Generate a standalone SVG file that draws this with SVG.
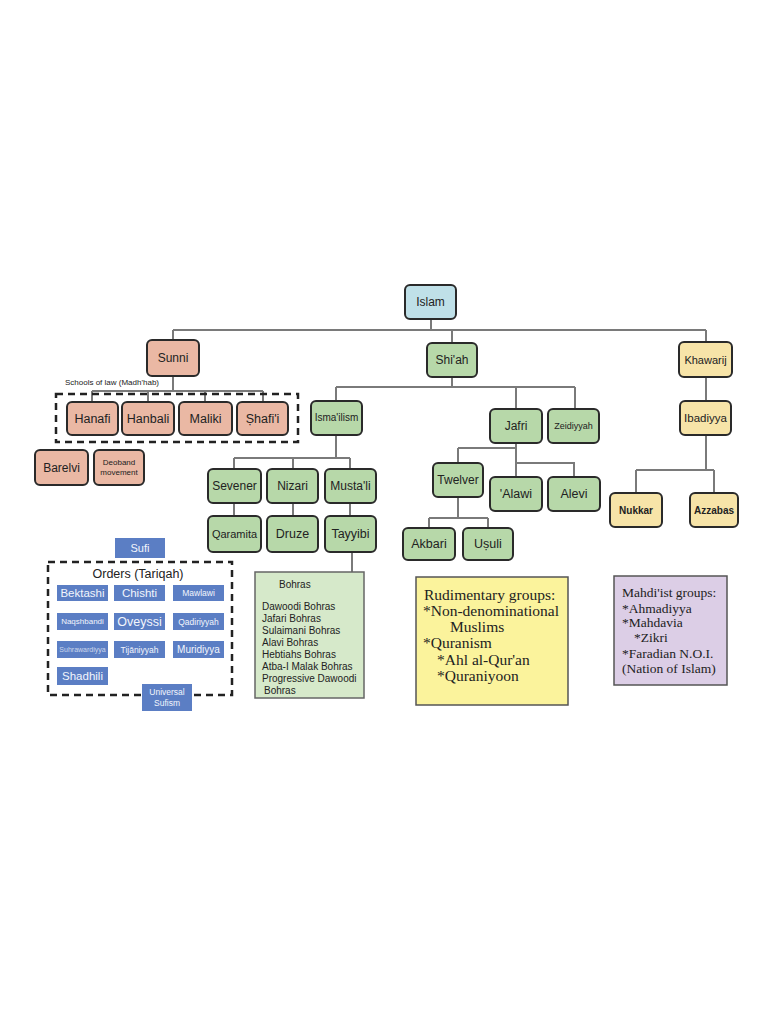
<svg xmlns="http://www.w3.org/2000/svg" width="768" height="1024" viewBox="0 0 768 1024">
<style>
.n{stroke:#2a2a2a;stroke-width:2}
.b{fill:#bfe0e8}.s{fill:#eab8a4}.g{fill:#b7d8a9}.y{fill:#f7e4a8}
.t{font-family:"Liberation Sans",Arial,sans-serif;fill:#222;text-anchor:middle}
.sf{fill:#5b7ec4}
.w{font-family:"Liberation Sans",Arial,sans-serif;fill:#f2f5fc;text-anchor:middle}
.c{fill:none;stroke:#7a7a7a;stroke-width:2}
.d{fill:none;stroke:#222;stroke-width:2.5;stroke-dasharray:7,5}
.sr{font-family:"Liberation Serif","Times New Roman",serif;fill:#222}
.bo{font-family:"Liberation Sans",Arial,sans-serif;fill:#222;font-size:10px}
</style>
<rect width="768" height="1024" fill="#fff"/>
<g id="connectors">
<path class="c" d="M431 319V330M173 330H706M173 330V340M452 330V343M706 330V342"/>
<path class="c" d="M173 376V391M92 391H263M92 391V402M148 391V402M205 391V402M263 391V402"/>
<path class="c" d="M452 377V387M336 387H575M336 387V401M516 387V409M575 387V409"/>
<path class="c" d="M336 435V458M234 458H350M234 458V469M293 458V469M350 458V469M234 503V516M293 503V516M350 503V516M352 552V572"/>
<path class="c" d="M516 443V477M458 448H516M458 448V463M516 463H574V477M458 497V518M429 518H488M429 518V528M488 518V528"/>
<path class="c" d="M706 377V401M706 435V470M636 470H714M636 470V493M714 470V493"/>
</g>
<g id="islam"><rect class="n b" x="405" y="285" width="51" height="34" rx="5"/><text class="t" x="430.5" y="306" font-size="12">Islam</text></g>
<g id="sunni"><rect class="n s" x="147" y="340" width="52" height="36" rx="5"/><text class="t" x="173" y="362" font-size="12">Sunni</text></g>
<g id="shiah"><rect class="n g" x="427" y="343" width="50" height="34" rx="5"/><text class="t" x="452" y="364" font-size="12">Shi'ah</text></g>
<g id="khawarij"><rect class="n y" x="679" y="342" width="53" height="35" rx="5"/><text class="t" x="705.5" y="364" font-size="11">Khawarij</text></g>
<text class="t" x="112" y="385" font-size="8">Schools of law (Madh'hab)</text>
<rect class="d" x="56" y="394" width="242" height="48"/>
<g id="hanafi"><rect class="n s" x="67" y="402" width="51" height="33" rx="5"/><text class="t" x="92.5" y="423" font-size="12.5">Hanafi</text></g>
<g id="hanbali"><rect class="n s" x="122" y="402" width="52" height="33" rx="5"/><text class="t" x="148" y="423" font-size="12.5">Hanbali</text></g>
<g id="maliki"><rect class="n s" x="179" y="402" width="53" height="33" rx="5"/><text class="t" x="205.5" y="423" font-size="12.5">Maliki</text></g>
<g id="shafii"><rect class="n s" x="237" y="402" width="51" height="33" rx="5"/><text class="t" x="262.5" y="423" font-size="12.5">Ṣhafi'i</text></g>
<g id="barelvi"><rect class="n s" x="35" y="450" width="53" height="35" rx="5"/><text class="t" x="61.5" y="472" font-size="12">Barelvi</text></g>
<g id="deoband"><rect class="n s" x="94" y="450" width="50" height="35" rx="5"/><text class="t" x="119" y="465" font-size="8">Deoband</text><text class="t" x="119" y="475" font-size="8">movement</text></g>
<g id="ismailism"><rect class="n g" x="311" y="401" width="51" height="34" rx="5"/><text class="t" x="336.5" y="421" font-size="10">Isma'ilism</text></g>
<g id="jafri"><rect class="n g" x="490" y="409" width="52" height="34" rx="5"/><text class="t" x="516" y="430" font-size="12">Jafri</text></g>
<g id="zeidiyyah"><rect class="n g" x="548" y="409" width="51" height="34" rx="5"/><text class="t" x="573.5" y="429" font-size="9">Zeidiyyah</text></g>
<g id="sevener"><rect class="n g" x="208" y="469" width="53" height="34" rx="5"/><text class="t" x="234.5" y="490" font-size="12">Sevener</text></g>
<g id="nizari"><rect class="n g" x="267" y="469" width="51" height="34" rx="5"/><text class="t" x="292.5" y="490" font-size="12">Nizari</text></g>
<g id="mustali"><rect class="n g" x="325" y="469" width="51" height="34" rx="5"/><text class="t" x="350.5" y="490" font-size="12">Musta'li</text></g>
<g id="qaramita"><rect class="n g" x="208" y="516" width="53" height="36" rx="5"/><text class="t" x="234.5" y="538" font-size="11">Qaramita</text></g>
<g id="druze"><rect class="n g" x="267" y="516" width="51" height="36" rx="5"/><text class="t" x="292.5" y="538" font-size="12.5">Druze</text></g>
<g id="tayyibi"><rect class="n g" x="325" y="516" width="51" height="36" rx="5"/><text class="t" x="350.5" y="538" font-size="12.5">Tayyibi</text></g>
<g id="twelver"><rect class="n g" x="433" y="463" width="50" height="34" rx="5"/><text class="t" x="458" y="484" font-size="12">Twelver</text></g>
<g id="alawi"><rect class="n g" x="490" y="477" width="52" height="34" rx="5"/><text class="t" x="516" y="498" font-size="12.5">'Alawi</text></g>
<g id="alevi"><rect class="n g" x="548" y="477" width="52" height="34" rx="5"/><text class="t" x="574" y="498" font-size="12.5">Alevi</text></g>
<g id="akbari"><rect class="n g" x="403" y="528" width="52" height="32" rx="5"/><text class="t" x="429" y="548" font-size="12.5">Akbari</text></g>
<g id="usuli"><rect class="n g" x="463" y="528" width="50" height="32" rx="5"/><text class="t" x="488" y="548" font-size="12.5">Uṣuli</text></g>
<g id="ibadiyya"><rect class="n y" x="680" y="401" width="51" height="34" rx="5"/><text class="t" x="705.5" y="422" font-size="11.5">Ibadiyya</text></g>
<g id="nukkar"><rect class="n y" x="610" y="493" width="52" height="34" rx="5"/><text class="t" x="636" y="514" font-size="10" font-weight="bold">Nukkar</text></g>
<g id="azzabas"><rect class="n y" x="690" y="493" width="48" height="34" rx="5"/><text class="t" x="714" y="514" font-size="10" font-weight="bold">Azzabas</text></g>
<g id="bohras"><rect x="255" y="572" width="109" height="126" fill="#d6e9ca" stroke="#666" stroke-width="1.5"/>
<text class="bo" x="279" y="588" font-size="9">Bohras</text>
<text class="bo" x="262" y="610">Dawoodi Bohras</text>
<text class="bo" x="262" y="622">Jafari Bohras</text>
<text class="bo" x="262" y="634">Sulaimani Bohras</text>
<text class="bo" x="262" y="646">Alavi Bohras</text>
<text class="bo" x="262" y="658">Hebtiahs Bohras</text>
<text class="bo" x="262" y="670">Atba-I Malak Bohras</text>
<text class="bo" x="262" y="682">Progressive Dawoodi</text>
<text class="bo" x="264" y="694">Bohras</text></g>
<g id="rudimentary"><rect x="416" y="577" width="152" height="128" fill="#fbf39c" stroke="#555" stroke-width="1.5"/>
<text class="sr" x="424" y="600" font-size="15.5">Rudimentary groups:</text>
<text class="sr" x="423" y="616" font-size="15.5">*Non-denominational</text>
<text class="sr" x="450" y="632" font-size="15.5">Muslims</text>
<text class="sr" x="423" y="648" font-size="15.5">*Quranism</text>
<text class="sr" x="437" y="665" font-size="15.5">*Ahl al-Qur'an</text>
<text class="sr" x="437" y="681" font-size="15.5">*Quraniyoon</text></g>
<g id="mahdiist"><rect x="614" y="576" width="113" height="109" fill="#dccee6" stroke="#555" stroke-width="1.5"/>
<text class="sr" x="622" y="597" font-size="13.5">Mahdi'ist groups:</text>
<text class="sr" x="622" y="613" font-size="13.5">*Ahmadiyya</text>
<text class="sr" x="622" y="627" font-size="13.5">*Mahdavia</text>
<text class="sr" x="634" y="642" font-size="13.5">*Zikri</text>
<text class="sr" x="622" y="658" font-size="13.5">*Faradian N.O.I.</text>
<text class="sr" x="622" y="673" font-size="13.5">(Nation of Islam)</text></g>
<g id="sufi"><rect class="sf" x="115" y="538" width="50" height="20"/><text class="w" x="140" y="552" font-size="11">Sufi</text></g>
<rect class="d" x="48" y="562" width="184" height="133"/>
<text class="t" x="138" y="578" font-size="12.5">Orders (Tariqah)</text>
<g id="bektashi"><rect class="sf" x="57" y="585" width="51" height="16"/><text class="w" x="82.5" y="597" font-size="11.5">Bektashi</text></g>
<g id="chishti"><rect class="sf" x="114" y="585" width="51" height="16"/><text class="w" x="139.5" y="597" font-size="11.5">Chishti</text></g>
<g id="mawlawi"><rect class="sf" x="173" y="585" width="51" height="16"/><text class="w" x="198.5" y="596" font-size="8.5">Mawlawi</text></g>
<g id="naqshbandi"><rect class="sf" x="57" y="613" width="51" height="17"/><text class="w" x="82.5" y="624" font-size="8">Naqshbandi</text></g>
<g id="oveyssi"><rect class="sf" x="114" y="613" width="51" height="17"/><text class="w" x="139.5" y="626" font-size="12.5">Oveyssi</text></g>
<g id="qadiriyyah"><rect class="sf" x="173" y="613" width="51" height="17"/><text class="w" x="198.5" y="624.5" font-size="8.5">Qadiriyyah</text></g>
<g id="suhrawardiyya"><rect class="sf" x="57" y="641" width="51" height="17"/><text class="w" x="82.5" y="652" font-size="7" fill-opacity="0.75">Suhrawardiyya</text></g>
<g id="tijaniyyah"><rect class="sf" x="114" y="641" width="51" height="17"/><text class="w" x="139.5" y="652.5" font-size="8.5">Tijāniyyah</text></g>
<g id="muridiyya"><rect class="sf" x="173" y="641" width="51" height="17"/><text class="w" x="198.5" y="653" font-size="10">Muridiyya</text></g>
<g id="shadhili"><rect class="sf" x="57" y="667" width="51" height="18"/><text class="w" x="82.5" y="680" font-size="11.5">Shadhili</text></g>
<g id="universal"><rect class="sf" x="142" y="684" width="50" height="27"/><text class="w" x="167" y="695" font-size="8.5">Universal</text><text class="w" x="167" y="706" font-size="8.5">Sufism</text></g>
</svg>
